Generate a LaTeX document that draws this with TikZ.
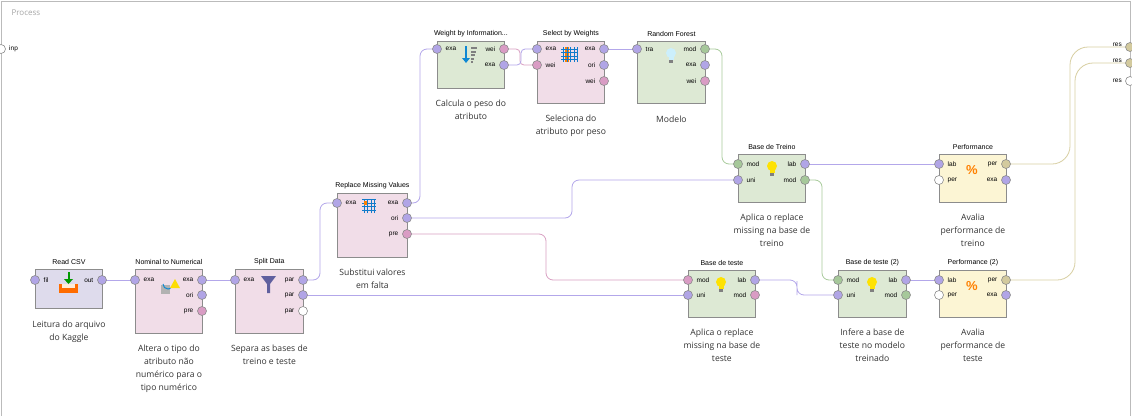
\documentclass[tikz,border=0pt]{standalone}
\usepackage{fontspec}
\setmainfont{Open Sans}
\newfontfamily\tf{Liberation Sans}
\usetikzlibrary{calc}
\definecolor{pex}{HTML}{B1A5E6}\definecolor{lex}{HTML}{B3A7EA}
\definecolor{ppk}{HTML}{D99CC4}\definecolor{lpk}{HTML}{D9A0C2}
\definecolor{pgr}{HTML}{A6C89A}\definecolor{lgr}{HTML}{A8CB9B}
\definecolor{ptn}{HTML}{D3CA9E}\definecolor{ltn}{HTML}{D8CFA2}
\definecolor{blav}{HTML}{DEDBEC}\definecolor{bpk}{HTML}{F1DDE8}
\definecolor{bgr}{HTML}{DDE9D4}\definecolor{bye}{HTML}{FCF5D4}
\definecolor{frm}{HTML}{BBBBBB}
\pgfdeclarelayer{bg}\pgfdeclarelayer{bgw}\pgfsetlayers{bgw,bg,main}
\tikzset{
 box/.style={draw=black!45,line width=0.8pt,anchor=north west,inner sep=0},
 port/.style={circle,draw=black!45,line width=0.6pt,minimum size=9pt,inner sep=0},
 plab/.style={font=\tf\fontsize{6.5}{7}\selectfont,inner sep=0},
 ttl/.style={font=\tf\fontsize{7}{8}\selectfont,anchor=south,inner sep=0,yshift=4pt},
 capt/.style={font=\fontsize{8.6}{13}\selectfont,align=center,anchor=north,inner sep=0,text=black!80},
 con/.style={line width=0.8pt,rounded corners=7pt}
}
\newcommand\pin[4]{\node[port,fill=#3] (#1) at (#2) {};\node[plab,anchor=west] at ([xshift=8.5pt]#1.center) {#4};}
\newcommand\pout[4]{\node[port,fill=#3] (#1) at (#2) {};\node[plab,anchor=east] at ([xshift=-8.5pt]#1.center) {#4};}
\newcommand\bulb[2]{\fill[#2] (#1) circle (5pt); \fill[#2] ($(#1)+(-2.5,2)$) rectangle ($(#1)+(2.5,7)$); \fill[gray] ($(#1)+(-2,7)$) rectangle ($(#1)+(2,10)$);}
\begin{document}
\begin{tikzpicture}[x=1pt,y=-1pt]
\useasboundingbox (0,0) rectangle (1132,416);
\begin{pgfonlayer}{bgw}\fill[white] (0,0) rectangle (1132,416);\end{pgfonlayer}
\draw[frm,line width=1pt] (1,416) -- (1,1) -- (1130,1) -- (1130,416);
\node[anchor=west,text=black!35,font=\fontsize{8}{9}\selectfont] (ttlp) at (8,13) {Process};
% process ports
\node[port,fill=white] (inp) at (1,49) {};\node[plab,anchor=west] at (9,49) {inp};
\node[port,fill=ptn] (res1) at (1130,47) {};\node[plab,anchor=east] at (1122,45) {res};
\node[port,fill=ptn] (res2) at (1130,63) {};\node[plab,anchor=east] at (1122,61) {res};
\node[port,fill=white] (res3) at (1130,81) {};\node[plab,anchor=east] at (1122,81) {res};

% Read CSV
\node[box,fill=blav,minimum width=67,minimum height=39] (rc) at (35,269) {};
\node[ttl] at (rc.north) {Read CSV};
\pin{rci}{35,280}{pex}{fil}\pout{rco}{102,280}{pex}{out}
\fill[orange!85!red] (59,284) rectangle (78,293); \fill[white!85!orange] (62,284) rectangle (75,288);
\fill[green!60!black] (67.5,272) rectangle (69.5,280); \fill[green!60!black] (64,279) -- (73,279) -- (68.5,284) -- cycle;
\node[capt] at ([yshift=-12pt]rc.south) {Leitura do arquivo\\do Kaggle};

% Nominal to Numerical
\node[box,fill=bpk,minimum width=67,minimum height=64] (nn) at (135,269) {};
\node[ttl] at (nn.north) {Nominal to Numerical};
\pin{nni}{135,280}{pex}{exa}
\pout{nno1}{202,280}{pex}{exa}\pout{nno2}{202,295}{pex}{ori}\pout{nno3}{202,311}{ppk}{pre}
\fill[gray!60] (161,285) rectangle (170,294); \fill[yellow!80!orange] (170,288) -- (175,279) -- (180,288) -- cycle;
\draw[cyan!70!blue,line width=1pt] (163,284) arc (180:60:5);
\node[capt] at ([yshift=-11pt]nn.south) {Altera o tipo do\\atributo não\\numérico para o\\tipo numérico};

% Split Data
\node[box,fill=bpk,minimum width=68,minimum height=64] (sd) at (235,269) {};
\node[ttl] at (sd.north) {Split Data};
\pin{sdi}{235,280}{pex}{exa}
\pout{sdo1}{303,280}{pex}{par}\pout{sdo2}{303,295}{pex}{par}\pout{sdo3}{303,311}{white}{par}
\fill[gray!75!blue] (261,276) -- (276,276) -- (270,284) -- (270,293) -- (267,293) -- (267,284) -- cycle;
\node[capt] at ([yshift=-11pt]sd.south) {Separa as bases de\\treino e teste};

% Replace Missing Values
\node[box,fill=bpk,minimum width=70,minimum height=64] (rm) at (337,193) {};
\node[ttl] at (rm.north) {Replace Missing Values};
\pin{rmi}{337,203}{pex}{exa}
\pout{rmo1}{407,203}{pex}{exa}\pout{rmo2}{407,218}{pex}{ori}\pout{rmo3}{407,234}{ppk}{pre}
\draw[cyan!60!blue,step=3.5pt,line width=0.5pt] (362,199) grid (376,213); \fill[orange] (364,201) rectangle (367,205);
\node[capt] at ([yshift=-11pt]rm.south) {Substitui valores\\em falta};

% Weight by Information
\node[box,fill=bgr,minimum width=67,minimum height=47] (wi) at (437,41) {};
\node[ttl] at (wi.north) {Weight by Information...};
\pin{wii}{437,49}{pex}{exa}
\pout{wio1}{504,49}{ppk}{wei}\pout{wio2}{504,65}{pex}{exa}
\fill[cyan!70!blue] (465,46) rectangle (467,60); \fill[cyan!70!blue] (462,58) -- (470,58) -- (466,63) -- cycle;
\foreach \i/\w in {0/6,1/5,2/4,3/3,4/2}{\fill[gray] (471,47+3.5*\i) rectangle (471+\w,49+3.5*\i);}
\node[capt] at ([yshift=-11pt]wi.south) {Calcula o peso do\\atributo};

% Select by Weights
\node[box,fill=bpk,minimum width=67,minimum height=62] (sw) at (537,41) {};
\node[ttl] at (sw.north) {Select by Weights};
\pin{swi1}{537,49}{pex}{exa}\pin{swi2}{537,65}{ppk}{wei}
\pout{swo1}{604,49}{pex}{exa}\pout{swo2}{604,65}{pex}{ori}\pout{swo3}{604,81}{ppk}{wei}
\fill[orange] (565,47) rectangle (569,62);
\draw[cyan!60!blue,step=3.5pt,line width=0.5pt] (561,47) grid (578,62);
\node[capt] at ([yshift=-11pt]sw.south) {Seleciona do\\atributo por peso};

% Random Forest
\node[box,fill=bgr,minimum width=68,minimum height=62] (rf) at (637,41) {};
\node[ttl] at (rf.north) {Random  Forest};
\pin{rfi}{637,49}{pex}{tra}
\pout{rfo1}{705,49}{pgr}{mod}\pout{rfo2}{705,65}{pex}{exa}\pout{rfo3}{705,81}{ppk}{wei}
\bulb{671,53}{cyan!20}
\node[capt] at ([yshift=-12pt]rf.south) {Modelo};

% Base de Treino
\node[box,fill=bgr,minimum width=67,minimum height=48] (bt) at (738,154) {};
\node[ttl] at (bt.north) {Base de Treino};
\pin{bti1}{738,164}{pgr}{mod}\pin{bti2}{738,180}{pex}{uni}
\pout{bto1}{805,164}{pex}{lab}\pout{bto2}{805,180}{pgr}{mod}
\bulb{772,166}{yellow!85!orange}
\node[capt] at ([yshift=-11pt]bt.south) {Aplica o replace\\missing na base de\\treino};

% Performance
\node[box,fill=bye,minimum width=67,minimum height=48] (pf) at (939,154) {};
\node[ttl] at (pf.north) {Performance};
\pin{pfi1}{939,164}{pex}{lab}\pin{pfi2}{939,180}{white}{per}
\pout{pfo1}{1006,164}{ptn}{per}\pout{pfo2}{1006,180}{pex}{exa}
\node[font=\tf\bfseries\fontsize{13}{13}\selectfont,text=orange] at (972,170) {\%};
\node[capt] at ([yshift=-11pt]pf.south) {Avalia\\performance de\\treino};

% Base de teste
\node[box,fill=bgr,minimum width=67,minimum height=47] (bs) at (688,270) {};
\node[ttl] at (bs.north) {Base de teste};
\pin{bsi1}{688,280}{ppk}{mod}\pin{bsi2}{688,295}{pex}{uni}
\pout{bso1}{755,280}{pex}{lab}\pout{bso2}{755,295}{ppk}{mod}
\bulb{721,282}{yellow!85!orange}
\node[capt] at ([yshift=-11pt]bs.south) {Aplica o replace\\missing na base de\\teste};

% Base de teste (2)
\node[box,fill=bgr,minimum width=68,minimum height=47] (b2) at (838,270) {};
\node[ttl] at (b2.north) {Base de teste (2)};
\pin{b2i1}{838,280}{pgr}{mod}\pin{b2i2}{838,295}{pex}{uni}
\pout{b2o1}{906,280}{pex}{lab}\pout{b2o2}{906,295}{pgr}{mod}
\bulb{872,282}{yellow!85!orange}
\node[capt] at ([yshift=-11pt]b2.south) {Infere a base de\\teste no modelo\\treinado};

% Performance (2)
\node[box,fill=bye,minimum width=67,minimum height=47] (p2) at (939,270) {};
\node[ttl] at (p2.north) {Performance (2)};
\pin{p2i1}{939,280}{pex}{lab}\pin{p2i2}{939,295}{white}{per}
\pout{p2o1}{1006,280}{ptn}{per}\pout{p2o2}{1006,295}{pex}{exa}
\node[font=\tf\bfseries\fontsize{13}{13}\selectfont,text=orange] at (972,286) {\%};
\node[capt] at ([yshift=-11pt]p2.south) {Avalia\\performance de\\teste};

\begin{pgfonlayer}{bg}
\draw[con,lex] (rco.center) -- (nni.center);
\draw[con,lex] (nno1.center) -- (sdi.center);
\draw[con,lex] (sdo1.center) -| (320,240) |- (rmi.center);
\draw[con,lex] (sdo2.center) -- (bsi2.center);
\draw[con,lex] (rmo1.center) -| (420,120) |- (wii.center);
\draw[con,lex] (rmo2.center) -| (572,200) |- (bti2.center);
\draw[con,lpk] (rmo3.center) -| (546,260) |- (bsi1.center);
\draw[con,lpk,rounded corners=4pt] (wio1.center) -| (520,57) |- (swi2.center);
\draw[con,lex,rounded corners=4pt] (wio2.center) -| (521,57) |- (swi1.center);
\draw[con,lex] (swo1.center) -- (rfi.center);
\draw[con,lgr] (rfo1.center) -| (722,100) |- (bti1.center);
\draw[con,lex] (bto1.center) -- (pfi1.center);
\draw[con,lgr] (bto2.center) -| (822,230) |- (b2i1.center);
\draw[con,lex] (bso1.center) -| (797,288) |- (b2i2.center);
\draw[con,lex] (b2o1.center) -- (p2i1.center);
\draw[con,ltn,rounded corners=18pt] (pfo1.center) -| (1070,100) |- (res1.center);
\draw[con,ltn,rounded corners=18pt] (p2o1.center) -| (1075,150) |- (res2.center);
\end{pgfonlayer}
\end{tikzpicture}
\end{document}
